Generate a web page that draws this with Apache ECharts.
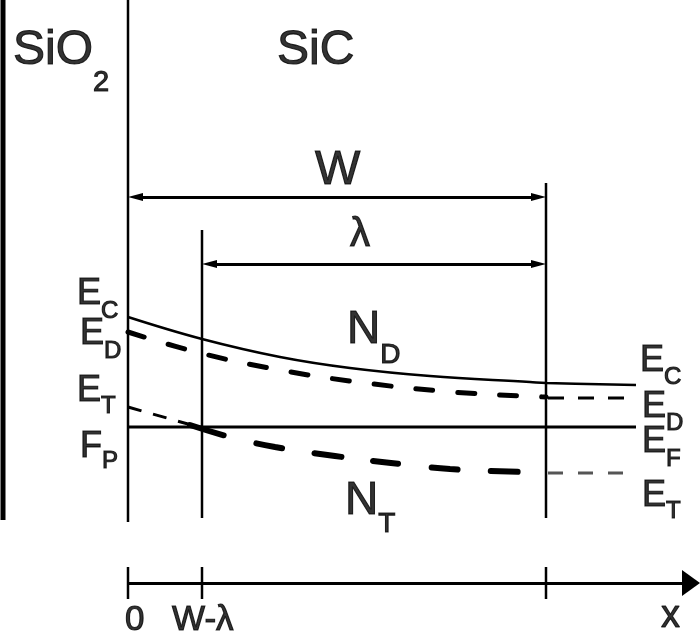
<!DOCTYPE html>
<html><head><meta charset="utf-8">
<script src="https://cdn.jsdelivr.net/npm/echarts@6/dist/echarts.min.js"></script>
<style>html,body{margin:0;padding:0;background:#fff}#c{width:700px;height:635px}</style>
</head><body><div id="c"></div><script>
// x: distance from the SiO2/SiC interface; y: electron energy drawn downward (arbitrary units)
const xMin = -128, xMax = 572, yMin = 0, yMax = 635;

// Conduction band edge E_C
const ecX = [0, 74, 152, 222, 302, 402, 418, 508];
const ecY = [317, 339, 357, 368, 376, 382, 383, 385];
// Donor level E_D (depletion region, thick dashes) and bulk (thin dashes)
const edX = [0, 72, 152, 222, 312, 392, 418];
const edY = [332, 353, 370, 381, 391, 396, 397];
const edBulkX = [420, 498];
const edBulkY = [398, 398];
// Trap level E_T: above E_F near surface, below E_F beyond W-lambda, bulk
const etSurfX = [0, 74];
const etSurfY = [407, 428];
const etX = [62, 102, 147, 207, 263, 322, 397];
const etY = [425, 437, 447, 456, 463, 469, 472];
const etBulkX = [420, 495];
const etBulkY = [473, 473];
// Fermi level
const efX = [0, 508];
const efY = [427, 427];

// Boundaries / positions
const oxideX = -125, interfaceX = 0, wlX = 74, wX = 418;
const oxideSpan = [0, 520], interfaceSpan = [0, 522], wlSpan = [230, 518], wSpan = [183, 518];
const wArrowY = 197, lArrowY = 264;
const axisY = 583, axisEnd = 572, tickSpan = [567, 599];
const tickX = [0, 74, 418];

// Text labels: main, subscript, anchor (top-left), sizes
const labelMain = ['SiO', 'SiC', 'W', 'λ', 'N', 'N', 'E', 'E', 'E', 'F', 'E', 'E', 'E', 'E', '0', 'W-λ', 'x'];
const labelSub  = ['2',   '',    '',  '',  'D', 'T', 'C', 'D', 'T', 'P', 'C', 'D', 'F', 'T', '',  '',    ''];
const labelX    = [-115, 149, 187, 222, 219, 217, -51, -48, -51, -48, 512, 514, 514, 514, -3, 44, 533];
const labelY    = [27, 27, 147, 215, 307, 478, 276, 316, 373, 429, 343, 389, 424, 478, 603, 603, 598];
const labelF    = [48, 48, 48, 40, 46, 46, 36, 36, 36, 36, 36, 36, 36, 36, 35, 35, 38];
const labelf    = [29, 0, 0, 0, 28, 28, 24, 24, 24, 24, 24, 24, 24, 24, 0, 0, 0];
const labelPt   = [41, 0, 0, 0, 34, 32, 23, 23, 21, 20, 22, 22, 23, 21, 0, 0, 0];

const FONT = "'Liberation Sans', Arial, Helvetica, sans-serif";
const zip = (xs, ys) => xs.map((x, i) => [x, ys[i]]);

function lineSeries(data, opts) {
  return Object.assign({
    type: 'line', data, symbol: 'none', silent: true, animation: false,
    lineStyle: { color: '#000', width: 2.5, type: 'solid' }, z: 3
  }, opts);
}

const series = [];
// vertical lines
series.push(lineSeries(zip([oxideX, oxideX], oxideSpan), { lineStyle: { color: '#000', width: 5 } }));
series.push(lineSeries(zip([interfaceX, interfaceX], interfaceSpan), {}));
series.push(lineSeries(zip([wlX, wlX], wlSpan), {}));
series.push(lineSeries(zip([wX, wX], wSpan), {}));
// bands
series.push(lineSeries(zip(ecX, ecY), { smooth: 0.4, lineStyle: { color: '#000', width: 2.5 } }));
series.push(lineSeries(zip(edX, edY), { smooth: 0.4, lineStyle: { color: '#000', width: 5, type: [17, 25], cap: 'round' } }));
series.push(lineSeries(zip(edBulkX, edBulkY), { lineStyle: { color: '#000', width: 3, type: [16, 14] } }));
series.push(lineSeries(zip(etSurfX, etSurfY), { lineStyle: { color: '#000', width: 3, type: [14, 12] } }));
series.push(lineSeries(zip(etX, etY), { smooth: 0.4, lineStyle: { color: '#000', width: 6,
  type: [35, 34, 26, 33, 27, 32, 25, 34, 26, 33, 27, 200], cap: 'round' } }));
series.push(lineSeries(zip(etBulkX, etBulkY), { lineStyle: { color: '#555', width: 3, type: [15, 15] } }));
series.push(lineSeries(zip(efX, efY), { lineStyle: { color: '#000', width: 3 } }));
// ticks of the x axis
tickX.forEach(t => series.push(lineSeries(zip([t, t], tickSpan), {})));

// arrows via markLine
const headW = 15, headA = 18;
series.push({
  type: 'line', data: [], silent: true, animation: false,
  markLine: {
    silent: true, animation: false, symbol: ['triangle', 'triangle'], symbolSize: [8, headW],
    label: { show: false }, emphasis: { disabled: true },
    lineStyle: { color: '#000', width: 3, type: 'solid' },
    data: [
      [{ coord: [interfaceX + headW / 2, wArrowY] }, { coord: [wX - headW / 2, wArrowY] }],
      [{ coord: [wlX + headW / 2, lArrowY] }, { coord: [wX - headW / 2, lArrowY] }]
    ]
  }
});
series.push({
  type: 'line', data: [], silent: true, animation: false,
  markLine: {
    silent: true, animation: false, symbol: ['none', 'triangle'], symbolSize: [26, headA],
    label: { show: false }, emphasis: { disabled: true },
    lineStyle: { color: '#000', width: 3, type: 'solid' },
    data: [[{ coord: [interfaceX, axisY] }, { coord: [axisEnd - headA / 2, axisY] }]]
  }
});

// labels
const txt = (size) => ({ fontFamily: FONT, fontSize: size, color: '#000', verticalAlign: 'top',
  textBorderColor: '#000', textBorderWidth: 1.1 });
series.push({
  type: 'scatter', symbolSize: 0, silent: true, animation: false, z: 10,
  data: labelMain.map((m, i) => ({
    value: [labelX[i], labelY[i]],
    label: {
      show: true, position: [0, 0], align: 'left', verticalAlign: 'top',
      formatter: labelSub[i] ? '{m|' + m + '}{s|' + labelSub[i] + '}' : '{m|' + m + '}',
      rich: {
        m: Object.assign(txt(labelF[i]), { lineHeight: labelF[i] }),
        s: Object.assign(txt(labelf[i] || 10), { lineHeight: labelf[i] || 10, padding: [labelPt[i], 0, 0, 0] })
      }
    }
  }))
});

const chart = echarts.init(document.getElementById('c'), null, { renderer: 'canvas' });
chart.setOption({
  animation: false,
  backgroundColor: '#fff',
  grid: { left: 0, right: 0, top: 0, bottom: 0 },
  xAxis: { type: 'value', min: xMin, max: xMax, show: false },
  yAxis: { type: 'value', min: yMin, max: yMax, inverse: true, show: false },
  series
});
</script></body></html>
